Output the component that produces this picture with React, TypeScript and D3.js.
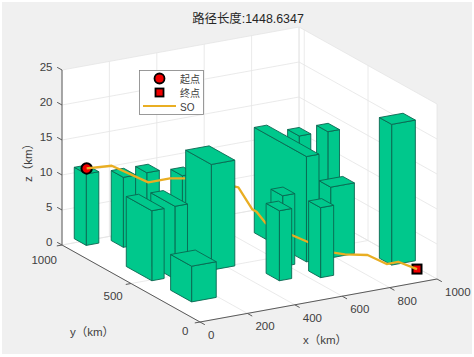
import React from "react";
import * as d3 from "d3";

const title = "路径长度:1448.6347";
const xTicks = [0, 200, 400, 600, 800, 1000];
const yTicks = [0, 500, 1000];
const zTicks = [0, 5, 10, 15, 20, 25];
const extraWallLines = [962];

// Buildings behind the path
const backX0 = [818, 822, 935, 782, 682, 580, 75, 182, 243, 339];
const backX1 = [867, 871, 1035, 882, 735, 631, 128, 235, 296, 392];
const backY0 = [686, 485, 217, 396, 400, 397, 953, 868, 803, 710];
const backY1 = [770, 567, 306, 480, 778, 482, 1040, 956, 884, 794];
const backH = [14, 16.8, 20.1, 10.1, 15.05, 10.1, 10.2, 10, 11, 11];

// Buildings in front of the path
const frontX0 = [332, 165, 82, 88, 488, 637];
const frontX1 = [431, 218, 134, 192, 540, 692];
const frontY0 = [488, 465, 490, 212, 263, 220];
const frontY1 = [674, 640, 675, 364, 359, 307];
const frontH = [15.1, 10.4, 10, 5.1, 10, 10];

// Flight path
const pathX = [100, 191, 253, 345, 393, 524, 531, 510, 510, 533, 589, 620, 700, 728, 796, 865, 915, 993];
const pathY = [993, 968, 809, 810, 783, 646, 634, 497, 466, 439, 347, 287, 236, 200, 153, 133, 135, 133];
const pathZ = [10.4, 10.5, 9.5, 9.5, 9.5, 9, 9, 7.5, 7.5, 6, 5, 4.5, 3, 3, 3, 1.5, 1.5, 0];

const GREEN = "#00c88c";
const EDGE = "#0a6650";
const LINE = "#e9ae23";
const TXT = "#404040";
const FONT = "'Liberation Sans','Noto Sans CJK SC',sans-serif";

const sx = d3.scaleLinear().domain([0, 1000]).range([0, 1]);
const sy = d3.scaleLinear().domain([0, 1000]).range([0, 1]);
const sz = d3.scaleLinear().domain([0, 25]).range([0, 1]);

function P(x: number, y: number, z: number): [number, number] {
  const a = sx(x), b = sy(y), c = sz(z);
  return [200 + 237 * a - 138 * b, 322 - 43 * a - 77 * b - 175 * c];
}
const lineGen = d3.line<[number, number]>();
const poly = (pts: [number, number][]) => lineGen(pts) + "Z";

function Box({ x0, x1, y0, y1, h }: { x0: number; x1: number; y0: number; y1: number; h: number }) {
  const faces = [
    [P(x0, y0, 0), P(x1, y0, 0), P(x1, y0, h), P(x0, y0, h)],
    [P(x0, y0, 0), P(x0, y1, 0), P(x0, y1, h), P(x0, y0, h)],
    [P(x0, y0, h), P(x1, y0, h), P(x1, y1, h), P(x0, y1, h)],
  ] as [number, number][][];
  return (
    <g>
      {faces.map((f, i) => (
        <path key={i} d={poly(f)} fill={GREEN} stroke={EDGE} strokeWidth={0.9} strokeLinejoin="round" />
      ))}
    </g>
  );
}

function Seg({ a, b, stroke, w }: { a: [number, number]; b: [number, number]; stroke: string; w: number }) {
  return <line x1={a[0]} y1={a[1]} x2={b[0]} y2={b[1]} stroke={stroke} strokeWidth={w} />;
}

export default function App() {
  const GRID = "#e4e4e4";
  const AX = "#5a5a5a";
  const path3 = pathX.map((x, i) => P(x, pathY[i], pathZ[i]));
  const start = path3[0];
  const end = path3[path3.length - 1];
  return (
    <svg width={474} height={357} style={{ position: "fixed", left: 0, top: 0 }} fontFamily={FONT}>
      <rect width={474} height={357} fill="#ffffff" />
      <rect x={2} y={2} width={470} height={352} fill="#f0f0f0" />
      {/* walls and floor */}
      <path d={poly([P(0, 1000, 0), P(1000, 1000, 0), P(1000, 1000, 25), P(0, 1000, 25)])} fill="#fff" />
      <path d={poly([P(1000, 0, 0), P(1000, 1000, 0), P(1000, 1000, 25), P(1000, 0, 25)])} fill="#fff" />
      <path d={poly([P(0, 0, 0), P(1000, 0, 0), P(1000, 1000, 0), P(0, 1000, 0)])} fill="#fff" />
      {/* grid */}
      {xTicks.map((t) => (
        <g key={t}>
          <Seg a={P(t, 0, 0)} b={P(t, 1000, 0)} stroke={GRID} w={0.8} />
          <Seg a={P(t, 1000, 0)} b={P(t, 1000, 25)} stroke={GRID} w={0.8} />
        </g>
      ))}
      {yTicks.map((t) => (
        <g key={t}>
          <Seg a={P(0, t, 0)} b={P(1000, t, 0)} stroke={GRID} w={0.8} />
          <Seg a={P(1000, t, 0)} b={P(1000, t, 25)} stroke={GRID} w={0.8} />
        </g>
      ))}
      {extraWallLines.map((t) => (
        <Seg key={t} a={P(1000, t, 0)} b={P(1000, t, 25)} stroke={GRID} w={0.8} />
      ))}
      {zTicks.map((t) => (
        <g key={t}>
          <Seg a={P(0, 1000, t)} b={P(1000, 1000, t)} stroke={GRID} w={0.8} />
          <Seg a={P(1000, 1000, t)} b={P(1000, 0, t)} stroke={GRID} w={0.8} />
        </g>
      ))}
      {/* axes */}
      <Seg a={P(0, 0, 0)} b={P(1000, 0, 0)} stroke={AX} w={1} />
      <Seg a={P(0, 0, 0)} b={P(0, 1000, 0)} stroke={AX} w={1} />
      <Seg a={P(0, 1000, 0)} b={P(0, 1000, 25)} stroke={AX} w={1} />
      {xTicks.map((t) => (
        <g key={t}>
          <Seg a={P(t, 0, 0)} b={P(t, -35, 0)} stroke={AX} w={1} />
          <text x={P(t, 0, 0)[0] + 8} y={P(t, 0, 0)[1] + 17} fontSize={11.5} fill={TXT}>{t}</text>
        </g>
      ))}
      {yTicks.map((t) => (
        <g key={t}>
          <Seg a={P(0, t, 0)} b={P(-22, t, 0)} stroke={AX} w={1} />
          <text x={P(0, t, 0)[0] - 11.5 + t * 0.0065} y={P(0, t, 0)[1] + 13 + t * 0.006} fontSize={11.5} fill={TXT} textAnchor="end">{t}</text>
        </g>
      ))}
      {zTicks.map((t) => (
        <g key={t}>
          <Seg a={P(0, 1000, t)} b={P(0, 1035, t)} stroke={AX} w={1} />
          <text x={52.5} y={P(0, 1000, t)[1] + 1} fontSize={11.5} fill={TXT} textAnchor="end">{t}</text>
        </g>
      ))}
      {/* buildings behind the path */}
      {backX0.map((x0, i) => (
        <Box key={i} x0={x0} x1={backX1[i]} y0={backY0[i]} y1={backY1[i]} h={backH[i]} />
      ))}
      <circle cx={start[0]} cy={start[1]} r={5.2} fill="#f00000" stroke="#000" strokeWidth={2} />
      <rect x={end[0] - 4.5} y={end[1] - 4.5} width={9} height={9} fill="#f00000" stroke="#000" strokeWidth={2} />
      <path d={lineGen(path3) ?? ""} fill="none" stroke={LINE} strokeWidth={2.3} strokeLinejoin="round" />
      {/* buildings in front of the path */}
      {frontX0.map((x0, i) => (
        <Box key={i} x0={x0} x1={frontX1[i]} y0={frontY0[i]} y1={frontY1[i]} h={frontH[i]} />
      ))}
      {/* title */}
      <text x={248} y={23} fontSize={12.4} fill="#262626" textAnchor="middle">{title}</text>
      {/* axis labels */}
      <text x={325} y={344} fontSize={11.5} fill={TXT} textAnchor="middle">x（km）</text>
      <text x={92} y={336} fontSize={11.5} fill={TXT} textAnchor="middle">y（km）</text>
      <text transform="translate(32,160) rotate(-90)" fontSize={11.5} fill={TXT} textAnchor="middle">z（km）</text>
      {/* legend */}
      <rect x={139.5} y={70.5} width={64} height={44} fill="#fff" stroke="#808080" strokeWidth={0.8} />
      <circle cx={159.5} cy={78.5} r={5} fill="#f00000" stroke="#000" strokeWidth={1.8} />
      <rect x={155.5} y={88.5} width={8} height={8} fill="#f00000" stroke="#000" strokeWidth={1.8} />
      <line x1={143} x2={176} y1={106} y2={106} stroke={LINE} strokeWidth={2.2} />
      <text x={180} y={82.5} fontSize={10} fill={TXT}>起点</text>
      <text x={180} y={96.5} fontSize={10} fill={TXT}>终点</text>
      <text x={180} y={110.5} fontSize={10} fill={TXT}>SO</text>
    </svg>
  );
}
